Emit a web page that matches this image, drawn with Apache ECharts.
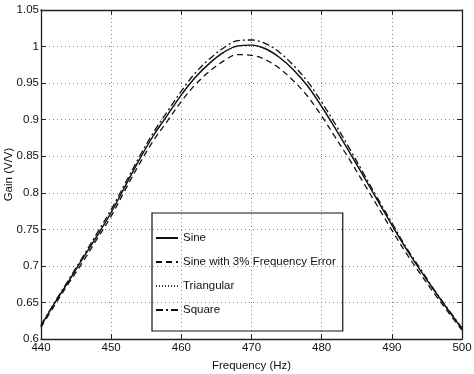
<!DOCTYPE html>
<html>
<head>
<meta charset="utf-8">
<script src="https://cdn.jsdelivr.net/npm/echarts@6/dist/echarts.min.js"></script>
<style>html,body{margin:0;padding:0;background:#fff;}#c{width:474px;height:374px;}</style>
</head>
<body>
<div id="c"></div>
<script>
var freq = [440,442,444,446,448,450,452,454,456,458,460,462,464,466,468,470,472,474,476,478,480,482,484,486,488,490,492,494,496,498,500];
var sine = [0.618,0.650,0.680,0.711,0.741,0.773,0.809,0.845,0.878,0.906,0.934,0.958,0.977,0.992,1.001,1.002,0.997,0.985,0.968,0.946,0.918,0.887,0.855,0.822,0.789,0.756,0.724,0.695,0.667,0.640,0.614];
var sineErr = [0.616,0.647,0.677,0.706,0.737,0.768,0.804,0.839,0.871,0.898,0.925,0.948,0.966,0.980,0.989,0.988,0.982,0.970,0.953,0.932,0.905,0.875,0.845,0.813,0.781,0.749,0.718,0.690,0.663,0.637,0.612];
var triangular = [0.617,0.649,0.680,0.710,0.742,0.774,0.809,0.845,0.877,0.906,0.933,0.957,0.976,0.991,1.000,1.002,0.996,0.985,0.967,0.945,0.917,0.887,0.855,0.822,0.789,0.756,0.724,0.695,0.667,0.640,0.614];
var square = [0.619,0.651,0.682,0.713,0.745,0.777,0.813,0.849,0.882,0.911,0.939,0.964,0.983,0.998,1.008,1.009,1.004,0.992,0.974,0.952,0.924,0.893,0.860,0.826,0.792,0.759,0.726,0.697,0.668,0.641,0.615];
var seriesNames = ['Sine','Sine with 3% Frequency Error','Triangular','Square'];
var xTicks = {min:440, max:500, interval:10};
var yTicks = {min:0.6, max:1.05, interval:0.05};

function pairs(vals){ return freq.map(function(f,i){ return [f, vals[i]]; }); }

var FONT = 'Liberation Sans';
var ink = '#111';
var axisLine = {show:true, lineStyle:{color:'#222', width:1.3}};
var tick = {show:true, inside:true, length:5, lineStyle:{color:'#222', width:1}};
var grid = {show:true, lineStyle:{color:'#888', width:1, type:[1,3]}};

var chart = echarts.init(document.getElementById('c'), null, {renderer:'canvas'});
chart.setOption({
  animation:false,
  backgroundColor:'#fff',
  textStyle:{fontFamily:FONT},
  grid:{left:41, right:12, top:10, bottom:35, containLabel:false, outerBoundsMode:'none'},
  xAxis:[
    {type:'value', min:xTicks.min, max:xTicks.max, interval:xTicks.interval, position:'bottom',
     name:'Frequency (Hz)', nameLocation:'middle', nameGap:21, nameMoveOverlap:false,
     nameTextStyle:{color:ink, fontSize:11.5, fontFamily:FONT},
     axisLine:axisLine, axisTick:tick, splitLine:grid,
     axisLabel:{color:ink, fontSize:11.5, fontFamily:FONT, margin:3}},
    {type:'value', min:xTicks.min, max:xTicks.max, interval:xTicks.interval, position:'top',
     axisLine:axisLine, axisTick:tick, splitLine:{show:false}, axisLabel:{show:false}}
  ],
  yAxis:[
    {type:'value', min:yTicks.min, max:yTicks.max, interval:yTicks.interval, position:'left',
     name:'Gain (V/V)', nameLocation:'middle', nameGap:26, nameRotate:90, nameMoveOverlap:false,
     nameTextStyle:{color:ink, fontSize:11.5, fontFamily:FONT},
     axisLine:axisLine, axisTick:tick, splitLine:grid,
     axisLabel:{color:ink, fontSize:11.5, fontFamily:FONT, margin:2}},
    {type:'value', min:yTicks.min, max:yTicks.max, interval:yTicks.interval, position:'right',
     axisLine:axisLine, axisTick:tick, splitLine:{show:false}, axisLabel:{show:false}}
  ],
  legend:{
    show:true, orient:'vertical', left:152, top:213,
    itemWidth:22, itemHeight:14, itemGap:12,
    padding:[19,7,15,3],
    borderColor:'#111', borderWidth:1.2,
    backgroundColor:'transparent',
    itemStyle:{opacity:0},
    textStyle:{color:ink, fontSize:11.5, fontFamily:FONT},
    data:seriesNames
  },
  series:[
    {name:seriesNames[0], type:'line', data:pairs(sine), smooth:0.35, symbol:'none',
     lineStyle:{color:'#111', width:1.4, type:'solid'}, itemStyle:{color:'#111'}, z:4},
    {name:seriesNames[1], type:'line', data:pairs(sineErr), smooth:0.35, symbol:'none',
     lineStyle:{color:'#111', width:1.3, type:[6,4]}, itemStyle:{color:'#111'}, z:3},
    {name:seriesNames[2], type:'line', data:pairs(triangular), smooth:0.35, symbol:'none',
     lineStyle:{color:'#333', width:1, type:[1,2]}, itemStyle:{color:'#333'}, z:2},
    {name:seriesNames[3], type:'line', data:pairs(square), smooth:0.35, symbol:'none',
     lineStyle:{color:'#111', width:1.3, type:[7,3,2,3]}, itemStyle:{color:'#111'}, z:3}
  ]
});
</script>
</body>
</html>
